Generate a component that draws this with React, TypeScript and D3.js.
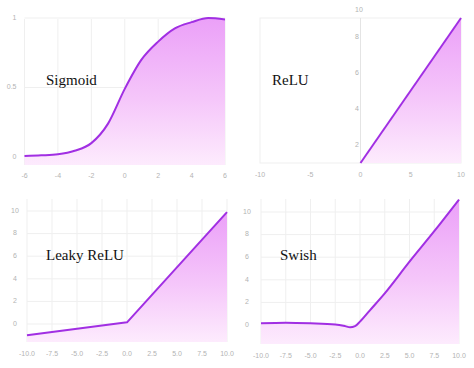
import React from "react";
import * as d3 from "d3";

// ---------- data ----------
const sigmoidX = [-6, -5, -4, -3, -2, -1, 0, 1, 2, 3, 4, 5, 6];
const sigmoidY = [0.007, 0.012, 0.02, 0.045, 0.1, 0.24, 0.49, 0.7, 0.83, 0.925, 0.97, 1.0, 0.99];
const sigmoidXTicks = [-6, -4, -2, 0, 2, 4, 6];
const sigmoidXLabels = ["-6", "-4", "-2", "0", "2", "4", "6"];
const sigmoidYTicks = [0, 0.5, 1];
const sigmoidYLabels = ["0", "0.5", "1"];

const reluX = [0, 10];
const reluY = [1, 9.05];
const reluXTicks = [-10, -5, 0, 5, 10];
const reluXLabels = ["-10", "-5", "0", "5", "10"];
const reluYTicks = [2, 4, 6, 8, 10];
const reluYLabels = ["2", "4", "6", "8", "10"];

const leakyX = [-10, 0, 10];
const leakyY = [-1, 0.15, 9.9];
const wideXTicks = [-10, -7.5, -5, -2.5, 0, 2.5, 5, 7.5, 10];
const wideXLabels = ["-10.0", "-7.5", "-5.0", "-2.5", "0.0", "2.5", "5.0", "7.5", "10.0"];
const wideYTicks = [0, 2, 4, 6, 8, 10];
const wideYLabels = ["0", "2", "4", "6", "8", "10"];

const swishX = [-10, -7.5, -5, -2.5, -1.5, -1, -0.5, 0, 1, 2.5, 5, 7.5, 10];
const swishY = [0.15, 0.2, 0.15, 0.05, -0.1, -0.2, -0.1, 0.3, 1.3, 2.8, 5.6, 8.3, 11.1];

const titles = ["Sigmoid", "ReLU", "Leaky ReLU", "Swish"];

// ---------- styles ----------
const LINE = "#a12fe3";
const GRID = "#efefef";
const TICK = "#b3b3b3";
const TICKFONT = "'Liberation Sans', Arial, sans-serif";
const TITLEFONT = "'Liberation Serif', 'Times New Roman', serif";

type PanelProps = {
  id: string;
  xs: number[];
  ys: number[];
  xDomain: [number, number];
  xRange: [number, number];
  yDomain: [number, number];
  yRange: [number, number];
  top: number;
  bottom: number;
  xTicks: number[];
  xLabels: string[];
  yTicks: number[];
  yLabels: string[];
  xLabelY: number;
  yLabelX: number;
  yLabelAnchor: "start" | "middle" | "end";
  yAxisAtZero?: boolean;
  title: string;
  titleX: number;
  titleY: number;
  curve: d3.CurveFactory;
};

function Panel(p: PanelProps) {
  const x = d3.scaleLinear().domain(p.xDomain).range(p.xRange);
  const y = d3.scaleLinear().domain(p.yDomain).range(p.yRange);
  const pts = p.xs.map((v, i) => [v, p.ys[i]] as [number, number]);
  const line = d3
    .line<[number, number]>()
    .x((d) => x(d[0]))
    .y((d) => y(d[1]))
    .curve(p.curve);
  const area = d3
    .area<[number, number]>()
    .x((d) => x(d[0]))
    .y0(p.bottom)
    .y1((d) => y(d[1]))
    .curve(p.curve);
  const [x0, x1] = p.xRange;
  const zeroX = x(0);
  return (
    <g>
      <defs>
        <linearGradient id={p.id} x1="0" y1="0" x2="0" y2="1">
          <stop offset="0%" stopColor="#eba0f8" />
          <stop offset="55%" stopColor="#f5c6fa" />
          <stop offset="100%" stopColor="#fdebfd" />
        </linearGradient>
      </defs>
      {p.yAxisAtZero ? (
        <g>
          <rect x={x0} y={p.top} width={x1 - x0} height={p.bottom - p.top} fill="none" stroke={GRID} strokeWidth={1} />
          <line x1={zeroX} x2={zeroX} y1={p.top} y2={p.bottom} stroke="#e4e4e4" strokeWidth={1} />
        </g>
      ) : (
        <g>
          {p.xTicks.map((t) => (
            <line key={"v" + t} x1={x(t)} x2={x(t)} y1={p.top} y2={p.bottom} stroke={GRID} strokeWidth={1} />
          ))}
          {p.yTicks.map((t) => (
            <line key={"h" + t} x1={x0} x2={x1} y1={y(t)} y2={y(t)} stroke={GRID} strokeWidth={1} />
          ))}
        </g>
      )}
      <path d={area(pts) || ""} fill={`url(#${p.id})`} />
      <path d={line(pts) || ""} fill="none" stroke={LINE} strokeWidth={2} strokeLinejoin="round" />
      {p.xTicks.map((t, i) => (
        <text key={"xl" + t} x={x(t)} y={p.xLabelY} fontSize={7} fill={TICK} textAnchor="middle" dominantBaseline="middle" fontFamily={TICKFONT}>
          {p.xLabels[i]}
        </text>
      ))}
      {p.yTicks.map((t, i) => (
        <text
          key={"yl" + t}
          x={p.yAxisAtZero ? zeroX - 5.5 : p.yLabelX}
          y={Math.max(y(t), p.top - 8)}
          fontSize={7}
          fill={TICK}
          textAnchor={p.yLabelAnchor}
          dominantBaseline="middle"
          fontFamily={TICKFONT}
        >
          {p.yLabels[i]}
        </text>
      ))}
      <text x={p.titleX} y={p.titleY} fontSize={15} fill="#111" fontFamily={TITLEFONT} dominantBaseline="middle">
        {p.title}
      </text>
    </g>
  );
}

export default function App() {
  return (
    <svg width={474} height={368} style={{ position: "absolute", left: 0, top: 0, background: "#fff" }}>
      <Panel
        id="g1"
        xs={sigmoidX}
        ys={sigmoidY}
        xDomain={[-6, 6]}
        xRange={[24.5, 225]}
        yDomain={[0, 1]}
        yRange={[157, 18]}
        top={19}
        bottom={165}
        xTicks={sigmoidXTicks}
        xLabels={sigmoidXLabels}
        yTicks={sigmoidYTicks}
        yLabels={sigmoidYLabels}
        xLabelY={176}
        yLabelX={16.5}
        yLabelAnchor="end"
        title={titles[0]}
        titleX={46}
        titleY={82}
        curve={d3.curveMonotoneX}
      />
      <Panel
        id="g2"
        xs={reluX}
        ys={reluY}
        xDomain={[-10, 10]}
        xRange={[260, 461]}
        yDomain={[1, 9.05]}
        yRange={[163, 18]}
        top={18}
        bottom={163}
        xTicks={reluXTicks}
        xLabels={reluXLabels}
        yTicks={reluYTicks}
        yLabels={reluYLabels}
        xLabelY={175}
        yLabelX={354}
        yLabelAnchor="start"
        yAxisAtZero
        title={titles[1]}
        titleX={272}
        titleY={82}
        curve={d3.curveLinear}
      />
      <Panel
        id="g3"
        xs={leakyX}
        ys={leakyY}
        xDomain={[-10, 10]}
        xRange={[27, 227]}
        yDomain={[0, 10]}
        yRange={[324, 211]}
        top={199}
        bottom={342}
        xTicks={wideXTicks}
        xLabels={wideXLabels}
        yTicks={wideYTicks}
        yLabels={wideYLabels}
        xLabelY={354}
        yLabelX={15}
        yLabelAnchor="middle"
        title={titles[2]}
        titleX={46}
        titleY={257}
        curve={d3.curveLinear}
      />
      <Panel
        id="g4"
        xs={swishX}
        ys={swishY}
        xDomain={[-10, 10]}
        xRange={[261, 459]}
        yDomain={[0, 10]}
        yRange={[325, 212]}
        top={199}
        bottom={344}
        xTicks={wideXTicks}
        xLabels={wideXLabels}
        yTicks={wideYTicks}
        yLabels={wideYLabels}
        xLabelY={356}
        yLabelX={247}
        yLabelAnchor="middle"
        title={titles[3]}
        titleX={280}
        titleY={257}
        curve={d3.curveMonotoneX}
      />
    </svg>
  );
}
